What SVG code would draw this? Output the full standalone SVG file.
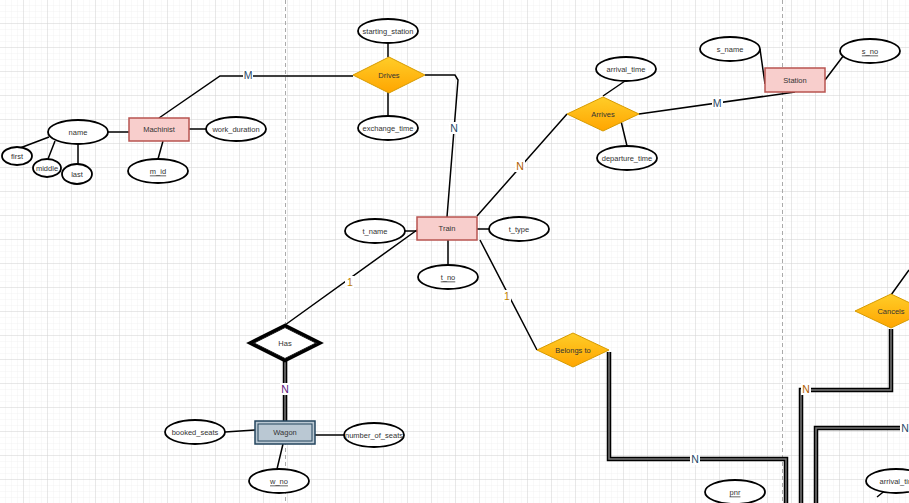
<svg xmlns="http://www.w3.org/2000/svg" width="909" height="503" viewBox="0 0 909 503">
<style>
text{font-family:"Liberation Sans",Arial,sans-serif;font-size:7.5px;fill:#333;text-anchor:middle;dominant-baseline:central}
.at{fill:#fff;stroke:#000;stroke-width:1.8}
.ent{fill:#f8cecc;stroke:#b85450;stroke-width:1.5}
.rel{fill:url(#gold);stroke:#d79b00;stroke-width:1}
.ln{fill:none;stroke:#000;stroke-width:1.5}
.dbo{fill:none;stroke:#000;stroke-width:4.5}
.dbi{fill:none;stroke:#777;stroke-width:1.5}
.card text{font-size:10.5px;fill:#2a4a6a}
.u{text-decoration:underline}
</style>
<defs>
<linearGradient id="gold" x1="0" y1="0" x2="0" y2="1"><stop offset="0" stop-color="#ffcd28"/><stop offset="1" stop-color="#ffa500"/></linearGradient>
<pattern id="minor" width="6" height="6" patternUnits="userSpaceOnUse"><path d="M6 0V6H0" fill="none" stroke="#ebebeb" stroke-width="0.6"/></pattern>
<pattern id="major" width="24" height="24" patternUnits="userSpaceOnUse"><path d="M24 0V24H0" fill="none" stroke="#d2d2d2" stroke-width="0.9"/></pattern>
</defs>
<rect width="909" height="503" fill="#fff"/>
<rect width="909" height="503" fill="url(#minor)"/>
<rect width="909" height="503" fill="url(#major)"/>
<path d="M285.5 0V503M782.5 0V503" stroke="#aaa" stroke-dasharray="4 3" stroke-width="1"/>

<g id="connectors">
<path class="ln" d="M78 132H129M49 137L20 148M55 141L48 159M78 144V164M189 129H206M163 141L158 159M159 118L220 76H353M425 75H455L458 80L447 217M388 43V57M388 91V116"/>
<path class="ln" d="M405 231H417M477 229H489M448 240V265M477 216L567 114M639 114L795 92M603 96L625 81M621 121L627 146M765 84L760 49M825 80L847 51"/>
<path class="ln" d="M417 230L285 325M480 240L537 350M225 432L255 430M315 435L344 435M283 444L277 469M891 295L909 270M877 497L892 485"/>
<path class="dbo" d="M285 360V421M609 352V459H786V503M891 329V390H801V503M909 428H816V503"/>
<path class="dbi" d="M285 360V421M609 352V459H786V503M891 329V390H801V503M909 428H816V503"/>
<g class="card">
<rect x="243" y="69" width="10" height="11" fill="#fff"/><text x="248" y="75">M</text>
<rect x="449" y="122" width="10" height="12" fill="#fff"/><text x="454" y="128">N</text>
<rect x="515" y="160" width="10" height="12" fill="#fff"/><text x="520" y="166" style="fill:#b06000">N</text>
<rect x="712" y="97" width="11" height="12" fill="#fff"/><text x="717" y="103">M</text>
<rect x="345" y="276" width="9" height="12" fill="#fff"/><text x="350" y="282" style="fill:#c08000">1</text>
<rect x="502" y="290" width="9" height="12" fill="#fff"/><text x="507" y="296" style="fill:#c08000">1</text>
<rect x="280" y="383" width="10" height="12" fill="#fff"/><text x="285" y="389" style="fill:#602080">N</text>
<rect x="690" y="453" width="10" height="12" fill="#fff"/><text x="695" y="459">N</text>
<rect x="801" y="383" width="10" height="12" fill="#fff"/><text x="806" y="389" style="fill:#b06000">N</text>
<rect x="900" y="422" width="9" height="12" fill="#fff"/><text x="905" y="428">N</text>
</g>
</g>

<g id="machinist"><rect class="ent" x="129" y="118" width="60" height="23"/><text x="159" y="129.5">Machinist</text></g>
<g id="name"><ellipse class="at" cx="78" cy="132" rx="30" ry="12"/><text x="78" y="132">name</text></g>
<g id="first"><ellipse class="at" cx="17" cy="156" rx="15" ry="9"/><text x="17" y="156">first</text></g>
<g id="middle"><ellipse class="at" cx="47" cy="168" rx="14" ry="9"/><text x="47" y="168">middle</text></g>
<g id="last"><ellipse class="at" cx="77" cy="174" rx="15" ry="10"/><text x="77" y="174">last</text></g>
<g id="work_duration"><ellipse class="at" cx="236" cy="129" rx="30" ry="12"/><text x="236" y="129">work_duration</text></g>
<g id="m_id"><ellipse class="at" cx="158" cy="171" rx="30" ry="12"/><text class="u" x="158" y="171">m_id</text></g>

<g id="drives"><path class="rel" d="M353 75L389 57L425 75L389 93Z"/><text x="389" y="75">Drives</text></g>
<g id="starting_station"><ellipse class="at" cx="388" cy="31" rx="30" ry="12"/><text x="388" y="31">starting_station</text></g>
<g id="exchange_time"><ellipse class="at" cx="388" cy="128" rx="30" ry="12"/><text x="388" y="128">exchange_time</text></g>

<g id="train"><rect class="ent" x="417" y="217" width="60" height="23"/><text x="447" y="228.5">Train</text></g>
<g id="t_name"><ellipse class="at" cx="375" cy="231" rx="30" ry="12"/><text x="375" y="231">t_name</text></g>
<g id="t_type"><ellipse class="at" cx="519" cy="229" rx="30" ry="12"/><text x="519" y="229">t_type</text></g>
<g id="t_no"><ellipse class="at" cx="448" cy="277" rx="30" ry="12"/><text class="u" x="448" y="277">t_no</text></g>

<g id="arrives"><path class="rel" d="M567 114L603 97L639 114L603 131Z"/><text x="603" y="114">Arrives</text></g>
<g id="arrival_time"><ellipse class="at" cx="626" cy="69" rx="30" ry="12"/><text x="626" y="69">arrival_time</text></g>
<g id="departure_time"><ellipse class="at" cx="627" cy="158" rx="30" ry="12"/><text x="627" y="158">departure_time</text></g>

<g id="station"><rect class="ent" x="765" y="68" width="60" height="24"/><text x="795" y="80">Station</text></g>
<g id="s_name"><ellipse class="at" cx="730" cy="49" rx="30" ry="12"/><text x="730" y="49">s_name</text></g>
<g id="s_no"><ellipse class="at" cx="870" cy="51" rx="30" ry="12"/><text class="u" x="870" y="51">s_no</text></g>

<g id="has"><path d="M250 343L285 325.5L320 343L285 360.5Z" fill="#fff" stroke="#000" stroke-width="3.5"/><path d="M254 343L285 327.5L316 343L285 358.5Z" fill="#fff" stroke="#000" stroke-width="1"/><text x="285" y="343">Has</text></g>

<g id="wagon"><rect x="255" y="421" width="60" height="23" fill="#bac8d3" stroke="#23445d" stroke-width="1.5"/><rect x="258" y="424" width="54" height="17" fill="none" stroke="#23445d" stroke-width="1"/><text x="285" y="432.5">Wagon</text></g>
<g id="booked_seats"><ellipse class="at" cx="195" cy="432" rx="30" ry="12"/><text x="195" y="432">booked_seats</text></g>
<g id="number_of_seats"><ellipse class="at" cx="374" cy="435" rx="30" ry="12"/><text x="374" y="435">number_of_seats</text></g>
<g id="w_no"><ellipse class="at" cx="279" cy="481" rx="30" ry="12"/><text class="u" x="279" y="481">w_no</text></g>

<g id="belongs_to"><path class="rel" d="M537 350L573 333L609 350L573 367Z"/><text x="573" y="350">Belongs to</text></g>
<g id="cancels"><path class="rel" d="M855 311L891 294L927 311L891 328Z"/><text x="891" y="311">Cancels</text></g>
<g id="pnr"><ellipse class="at" cx="735" cy="492" rx="30" ry="12"/><text class="u" x="735" y="492">pnr</text></g>
<g id="arrival_time2"><ellipse class="at" cx="896" cy="481" rx="30" ry="12"/><text x="899" y="481">arrival_time</text></g>
</svg>
